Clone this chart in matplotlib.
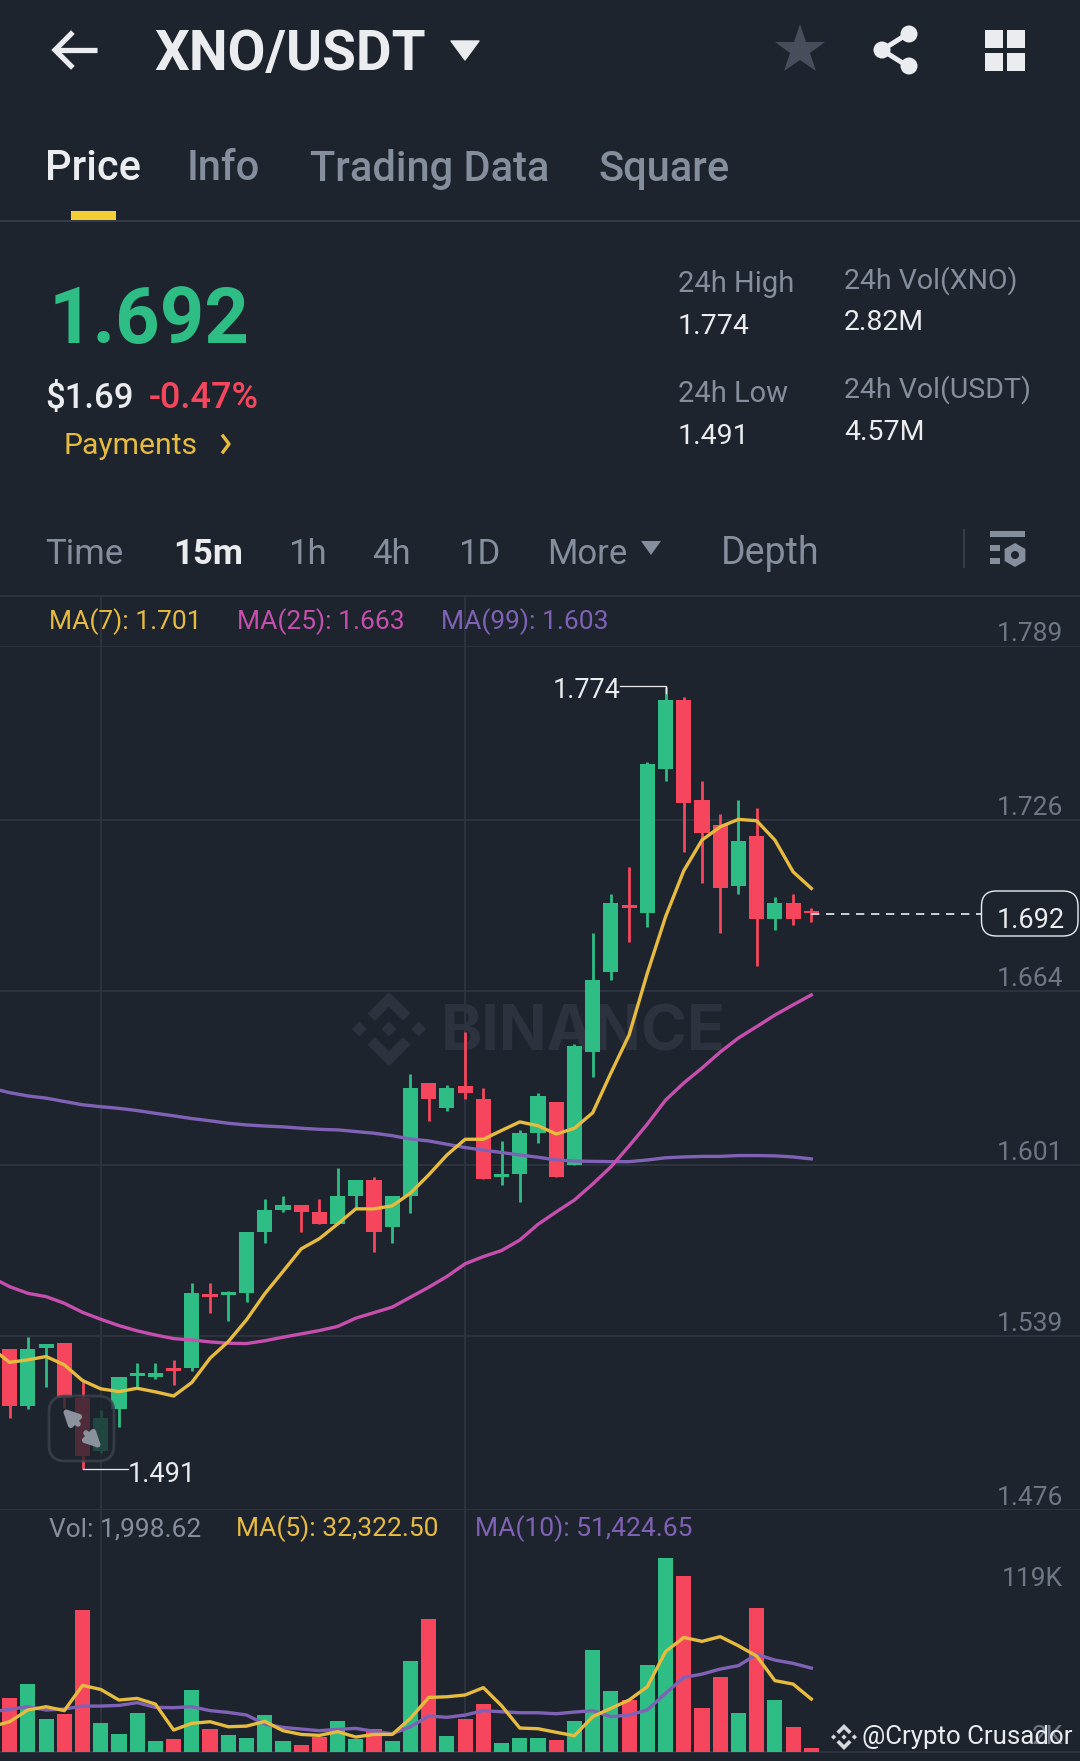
import matplotlib
matplotlib.use('Agg')
import matplotlib.pyplot as plt
from matplotlib.patches import Circle, FancyBboxPatch, Polygon, Rectangle, RegularPolygon

plt.rcParams['font.family'] = ['Roboto', 'DejaVu Sans']

# candles, oldest first
opens = [1.5344, 1.5135, 1.5346, 1.5364, 1.5165, 1.4972, 1.5125, 1.5246, 1.5241, 1.5274, 1.5274, 1.5543, 1.5538, 1.5545, 1.5766,
         1.5847, 1.5866, 1.5838, 1.5796, 1.5898, 1.5956, 1.5787, 1.5898, 1.6308, 1.6218, 1.6296, 1.6248, 1.5968, 1.5978, 1.6127,
         1.6239, 1.6010, 1.6420, 1.6710, 1.6950, 1.6921, 1.7443, 1.7694, 1.7332, 1.7241, 1.7020, 1.7203, 1.6902, 1.6960, 1.6930]
highs = [1.5344, 1.5385, 1.5362, 1.5364, 1.5225, 1.5123, 1.5243, 1.5294, 1.5294, 1.5304, 1.5584, 1.5584, 1.5555, 1.5766, 1.5886,
         1.5898, 1.5866, 1.5886, 1.5998, 1.5956, 1.5968, 1.5898, 1.6340, 1.6308, 1.6298, 1.6493, 1.6288, 1.6098, 1.6137, 1.6270,
         1.6239, 1.6448, 1.6850, 1.6992, 1.7091, 1.7471, 1.7740, 1.7704, 1.7402, 1.7281, 1.7332, 1.7302, 1.6979, 1.6992, 1.6940]
lows = [1.5092, 1.5125, 1.5205, 1.5129, 1.4910, 1.4966, 1.5062, 1.5207, 1.5234, 1.5213, 1.5265, 1.5475, 1.5445, 1.5515, 1.5726,
        1.5838, 1.5766, 1.5796, 1.5796, 1.5853, 1.5696, 1.5726, 1.5835, 1.6170, 1.6207, 1.6248, 1.5958, 1.5938, 1.5875, 1.6089,
        1.5968, 1.6010, 1.6330, 1.6680, 1.6819, 1.6871, 1.7402, 1.7142, 1.7030, 1.6851, 1.6992, 1.6731, 1.6861, 1.6880, 1.6891]
closes = [1.5135, 1.5344, 1.5362, 1.5165, 1.4954, 1.5092, 1.5243, 1.5255, 1.5255, 1.5264, 1.5545, 1.5533, 1.5548, 1.5766, 1.5845,
          1.5865, 1.5838, 1.5796, 1.5898, 1.5956, 1.5766, 1.5898, 1.6288, 1.6248, 1.6288, 1.6270, 1.5958, 1.5978, 1.6127, 1.6258,
          1.5968, 1.6441, 1.6680, 1.6960, 1.6941, 1.7463, 1.7694, 1.7322, 1.7214, 1.7012, 1.7182, 1.6902, 1.6960, 1.6902, 1.6921]

# moving averages start one candle earlier, off the left edge
ma7 = [1.5346, 1.5295, 1.5304, 1.5316, 1.5286, 1.5229, 1.5199, 1.5189, 1.5201, 1.5188, 1.5173, 1.5222, 1.5310, 1.5370, 1.5449, 1.5543,
       1.5624, 1.5706, 1.5743, 1.5796, 1.5851, 1.5851, 1.5862, 1.5908, 1.5974, 1.6046, 1.6103, 1.6103, 1.6135, 1.6166, 1.6152,
       1.6122, 1.6143, 1.6199, 1.6343, 1.6481, 1.6705, 1.6909, 1.7076, 1.7187, 1.7235, 1.7262, 1.7257, 1.7187, 1.7072, 1.7012]
ma25 = [1.5603, 1.5569, 1.5545, 1.5533, 1.5509, 1.5476, 1.5451, 1.5428, 1.5409, 1.5394, 1.5381, 1.5376, 1.5369, 1.5364, 1.5363, 1.5373,
        1.5386, 1.5398, 1.5410, 1.5425, 1.5455, 1.5475, 1.5495, 1.5531, 1.5567, 1.5606, 1.5652, 1.5678, 1.5700, 1.5738, 1.5795,
        1.5840, 1.5883, 1.5941, 1.6003, 1.6079, 1.6158, 1.6245, 1.6307, 1.6361, 1.6419, 1.6470, 1.6511, 1.6553, 1.6590, 1.6626]
ma99 = [1.6288, 1.6272, 1.6260, 1.6252, 1.6240, 1.6228, 1.6221, 1.6215, 1.6207, 1.6197, 1.6188, 1.6178, 1.6170, 1.6161, 1.6155, 1.6151,
        1.6148, 1.6143, 1.6139, 1.6137, 1.6131, 1.6125, 1.6116, 1.6104, 1.6097, 1.6085, 1.6073, 1.6064, 1.6055, 1.6046, 1.6038,
        1.6028, 1.6024, 1.6023, 1.6022, 1.6022, 1.6028, 1.6036, 1.6039, 1.6041, 1.6041, 1.6044, 1.6044, 1.6043, 1.6039, 1.6032]

# volume in thousands
volumes = [32.7, 41.3, 20.0, 23.3, 86.9, 17.6, 10.8, 23.9, 6.5, 8.0, 37.8, 13.9, 10.2, 8.2, 22.3, 6.7, 4.1, 9.2, 18.6, 7.6, 13.9, 6.5, 55.6,
           81.4, 9.8, 20.2, 29.2, 5.3, 8.6, 8.6, 7.0, 18.6, 62.2, 37.4, 31.7, 53.0, 118.6, 107.8, 26.8, 45.6, 23.9, 88.3, 31.7, 15.3, 2.0]
vol_ma5 = [15.3, 18.4, 25.6, 27.6, 25.2, 40.7, 38.2, 31.7, 32.7, 29.2, 13.3, 17.4, 18.4, 15.3, 15.7, 18.6, 12.9, 10.6, 10.0, 12.3, 9.0, 10.6, 10.6,
           20.5, 33.3, 33.7, 34.8, 39.3, 28.2, 14.5, 14.1, 11.9, 9.8, 21.5, 26.6, 31.7, 39.9, 61.4, 70.1, 67.7, 70.6, 65.0, 58.7, 43.6, 41.5, 32.3]
vol_ma10 = [24.5, 26.0, 27.6, 25.6, 26.2, 28.0, 28.0, 28.4, 30.1, 27.2, 27.0, 27.6, 25.2, 24.1, 22.5, 17.0, 14.9, 13.9, 12.9, 13.7, 14.3, 12.5, 11.0,
            15.3, 21.9, 21.1, 22.5, 25.2, 24.5, 23.9, 23.9, 23.3, 24.3, 25.2, 21.5, 22.5, 25.6, 35.8, 45.6, 47.6, 50.7, 52.8, 59.7, 56.2, 54.2, 51.3]

price_ticks = [1.789, 1.726, 1.664, 1.601, 1.539, 1.476]
price_labels = ['1.789', '1.726', '1.664', '1.601', '1.539', '1.476']
tabs = ['Price', 'Info', 'Trading Data', 'Square']
intervals = ['Time', '15m', '1h', '4h', '1D', 'More', 'Depth']

BG = '#1e242e'
GRID = '#2e343f'
GREEN = '#2ebd85'
RED = '#f6465d'
WHITE = '#eaecef'
GRAY = '#848e9c'
AXIS_GRAY = '#6e7785'
YELLOW = '#e6bb3e'
PINK = '#c64fae'
PURPLE = '#7f62b5'
W, H = 1080, 1761
X0, DX = 9.64, 18.22
MA_LW = 2.4

fig = plt.figure(figsize=(W / 100, H / 100), dpi=100, facecolor=BG)


def pixel_axes(zorder):
    a = fig.add_axes([0, 0, 1, 1], zorder=zorder)
    a.set_xlim(0, W)
    a.set_ylim(H, 0)
    a.axis('off')
    return a


def band_axes(top, bottom, zorder):
    a = fig.add_axes([0, 1 - bottom / H, 1, (bottom - top) / H], zorder=zorder)
    a.patch.set_alpha(0)
    a.set_xlim(-X0 / DX, (W - X0) / DX)
    for s in a.spines.values():
        s.set_visible(False)
    a.tick_params(left=False, bottom=False, labelleft=False, labelbottom=False)
    return a


def put(a, x, y, s, color=WHITE, size=19, **kw):
    a.text(x, y + 2, s, color=color, fontsize=size, va='center', **kw)


def logo(a, cx, cy, r, color):
    # four small diamonds and two chevrons
    d = r * 0.2
    for ox, oy in [(0, 0), (-r * 0.8, 0), (r * 0.8, 0)]:
        a.add_patch(Polygon([(cx + ox - d, cy + oy), (cx + ox, cy + oy - d), (cx + ox + d, cy + oy), (cx + ox, cy + oy + d)], color=color, lw=0))
    for sign in (-1, 1):
        a.add_patch(Polygon([(cx, cy + sign * r), (cx + r * 0.58, cy + sign * r * 0.42), (cx + r * 0.38, cy + sign * r * 0.22), (cx, cy + sign * r * 0.6),
                             (cx - r * 0.38, cy + sign * r * 0.22), (cx - r * 0.58, cy + sign * r * 0.42)], color=color, lw=0))


ui = pixel_axes(0)
price_ax = band_axes(646, 1510, 1)
vol_ax = band_axes(1510, 1751.7, 1)
top = pixel_axes(2)

# header
ui.plot([56, 97], [50, 50], color=WHITE, lw=3.8, solid_capstyle='butt')
ui.plot([71, 55, 71], [34, 50, 66], color=WHITE, lw=3.8, solid_joinstyle='miter')
put(ui, 154, 53, 'XNO/USDT', size=39.5, fontweight='bold')
ui.add_patch(Polygon([(451, 41), (479, 41), (465, 60)], color=WHITE, lw=1, joinstyle='round'))
ui.plot([800], [50], marker='*', ms=38, color='#474d5a', mew=0)
ui.plot([909, 882, 909], [33, 50, 67], color=WHITE, lw=3.6)
for cx, cy in [(909, 34), (882, 50), (909, 66)]:
    ui.add_patch(Circle((cx, cy), 8.5, color=WHITE, lw=0))
for rx, ry in [(985, 30), (1007, 30), (985, 53), (1007, 53)]:
    ui.add_patch(Rectangle((rx, ry), 18, 18, color=WHITE, lw=0))

# tabs
for s, x, c in zip(tabs, [45, 187, 310, 599], [WHITE, GRAY, GRAY, GRAY]):
    put(ui, x, 167, s, color=c, size=30, fontweight='medium')
ui.add_patch(Rectangle((71, 211), 45, 9, color='#f3cf35', lw=0))
ui.plot([0, W], [221, 221], color='#363c47', lw=1.4)

# price block
put(ui, 49, 320, '1.692', color=GREEN, size=56, fontweight='bold')
put(ui, 45, 396, '$1.69', size=25, fontweight='medium')
put(ui, 149, 396, '-0.47%', color=RED, size=26, fontweight='medium')
put(ui, 63, 444, 'Payments', color=YELLOW, size=21.7)
ui.plot([223, 229, 223], [436, 444, 452], color=YELLOW, lw=2.4)

put(ui, 678, 282, '24h High', color=GRAY, size=21)
put(ui, 678, 325, '1.774', size=20.5)
put(ui, 678, 392, '24h Low', color=GRAY, size=21)
put(ui, 678, 435, '1.491', size=20.5)
put(ui, 844, 279, '24h Vol(XNO)', color=GRAY, size=20.5)
put(ui, 844, 321, '2.82M', size=20.5)
put(ui, 844, 388, '24h Vol(USDT)', color=GRAY, size=20.5)
put(ui, 844, 431, '4.57M', size=20.5)

# interval row
for s, x in zip(intervals, [45, 173, 288, 372, 458, 547, 721]):
    if s == '15m':
        put(ui, x, 552, s, size=25, fontweight='bold')
    elif s == 'Depth':
        put(ui, x, 552, s, color=GRAY, size=27)
    else:
        put(ui, x, 552, s, color=GRAY, size=25)
ui.add_patch(Polygon([(641, 541), (661, 541), (651, 555)], color=GRAY, lw=0))
ui.plot([964, 964], [530, 567], color='#363c47', lw=1.6)
ui.add_patch(Rectangle((990, 531), 35, 6, color=GRAY, lw=0))
ui.add_patch(Rectangle((990, 545), 10, 6, color=GRAY, lw=0))
ui.add_patch(Rectangle((990, 558), 10, 6, color=GRAY, lw=0))
ui.add_patch(RegularPolygon((1015, 555), 6, radius=12, color=GRAY, lw=0))
ui.add_patch(Circle((1015, 555), 4, color=BG, lw=0))
ui.plot([0, W], [596, 596], color=GRID, lw=1.4)

# legends
put(ui, 49, 620, 'MA(7): 1.701', color=YELLOW)
put(ui, 237, 620, 'MA(25): 1.663', color=PINK)
put(ui, 441, 620, 'MA(99): 1.603', color=PURPLE)
put(ui, 49, 1527, 'Vol: 1,998.62', color=GRAY)
put(ui, 236, 1527, 'MA(5): 32,322.50', color=YELLOW)
put(ui, 475, 1527, 'MA(10): 51,424.65', color=PURPLE)

# grid and watermark sit under the marks
for x in [101, 465]:
    ui.plot([x, x], [596, 1752], color=GRID, lw=1.4)
logo(ui, 389, 1029, 37, '#2d333e')
put(ui, 441, 1032, 'BINANCE', color='#2d333e', size=45, family='Inter', fontweight='bold')

xs = list(range(len(opens)))
ma_xs = list(range(-1, len(opens)))
colors = [GREEN if c >= o else RED for o, c in zip(opens, closes)]

# price panel
price_ax.set_ylim(1.476, 1.789)
price_ax.set_yticks(price_ticks)
price_ax.grid(axis='y', color=GRID, lw=1.4)
price_ax.set_axisbelow(True)
price_ax.vlines(xs, lows, highs, colors=colors, lw=2)
bottoms = [min(o, c) for o, c in zip(opens, closes)]
heights = [abs(o - c) for o, c in zip(opens, closes)]
price_ax.bar(xs, heights, bottom=bottoms, width=0.83, color=colors)
price_ax.plot(ma_xs, ma99, color=PURPLE, lw=MA_LW)
price_ax.plot(ma_xs, ma25, color=PINK, lw=MA_LW)
price_ax.plot(ma_xs, ma7, color=YELLOW, lw=MA_LW)
for tick, lab in zip(price_ticks, price_labels):
    price_ax.annotate(lab, xy=(1, tick), xycoords=price_ax.get_yaxis_transform(), xytext=(-17, 12), textcoords='offset pixels',
                      ha='right', va='center', color=AXIS_GRAY, fontsize=19)

# high, low and last price markers
price_ax.plot([33.5, 36, 36], [1.7746, 1.7746, 1.7720], color=WHITE, lw=0.9)
price_ax.plot([4, 6.5], [1.491, 1.491], color=WHITE, lw=0.9)
price_ax.plot([44, 53.3], [1.692, 1.692], color=WHITE, lw=1.2, dashes=(5, 4))
put(ui, 553, 688, '1.774', size=19.5)
put(ui, 128, 1472, '1.491', size=19.5)
top.add_patch(FancyBboxPatch((993, 902.5), 73.5, 22, boxstyle='round,pad=11.5,rounding_size=15', fc=BG, ec=WHITE, lw=1))
put(top, 1031, 918, '1.692', ha='center', size=19.5)

# volume panel
vol_ax.set_ylim(0, 148.3)
vol_ax.bar(xs, volumes, width=0.83, color=colors)
vol_ax.plot(ma_xs, vol_ma10, color=PURPLE, lw=MA_LW)
vol_ax.plot(ma_xs, vol_ma5, color=YELLOW, lw=MA_LW)
put(ui, 1063, 1577, '119K', color=AXIS_GRAY, ha='right')
put(ui, 1063, 1735, '2K', color=AXIS_GRAY, ha='right')
ui.plot([0, W], [1752, 1752], color=GRID, lw=1.4)

# expand button floats over the candles
top.add_patch(FancyBboxPatch((62, 1409), 39, 39, boxstyle='round,pad=13,rounding_size=16', fc=BG, ec='#3d434e', lw=2, alpha=0.78))
for tail, head in [((78, 1424), (62, 1408)), ((86, 1433), (102, 1449))]:
    top.annotate('', xy=head, xytext=tail, arrowprops=dict(arrowstyle='-|>', color='#8b929e', lw=4, mutation_scale=22, shrinkA=0, shrinkB=0))

# screenshot credit
logo(top, 844, 1737, 13, '#d5d8dd')
put(top, 862, 1735, '@Crypto Crusador', size=18.6)

fig.savefig('out.png', dpi=100, facecolor=BG)
